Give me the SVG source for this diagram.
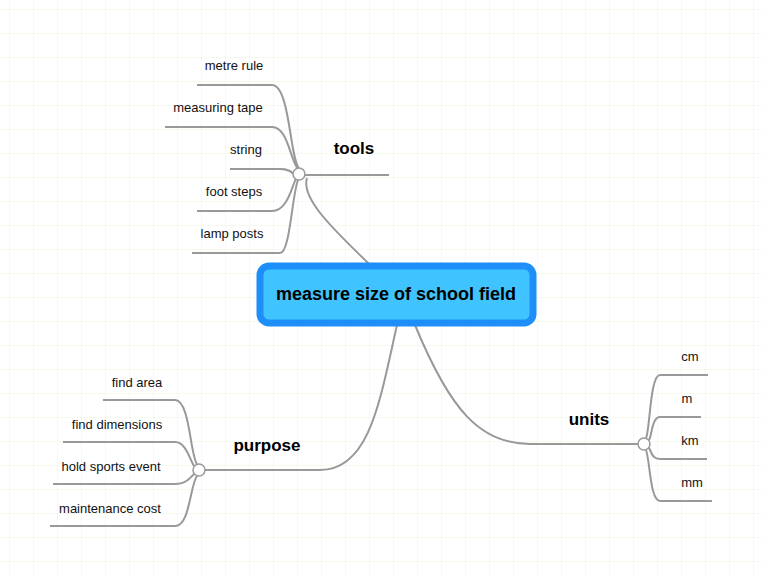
<svg xmlns="http://www.w3.org/2000/svg" width="762" height="575" viewBox="0 0 762 575">
<defs>
<pattern id="g" width="24" height="24" patternUnits="userSpaceOnUse" x="10" y="10">
<path d="M24 0V24M0 24H24" fill="none" stroke="#edf2dc" stroke-width="1"/>
</pattern>
<style>
.c{fill:none;stroke:#999;stroke-width:2}
.k{fill:#fff;stroke:#999;stroke-width:1.5}
.t{font-family:"Liberation Sans",Arial,sans-serif;font-size:13px;fill:#111;text-anchor:middle}
.h{font-family:"Liberation Sans",Arial,sans-serif;font-size:17px;font-weight:bold;fill:#000;text-anchor:middle}
</style>
</defs>
<rect width="762" height="575" fill="#fff"/>
<rect width="762" height="575" fill="url(#g)"/>
<g id="connectors">
<path class="c" d="M370 265C340 235 300 200 307 178"/>
<path class="c" d="M397 325C380 400 370 470 320 470H205"/>
<path class="c" d="M415 325C450 410 480 444 530 444H638"/>
<path class="c" d="M305 175H389"/>
<path class="c" d="M197 85H272C290 85 290 160 299 168"/>
<path class="c" d="M165 127H272C288 127 290 160 298 169"/>
<path class="c" d="M230 169H280C288 169 292 172 293 174"/>
<path class="c" d="M197 211H272C288 211 292 185 296 179"/>
<path class="c" d="M192 253H280C290 253 292 195 298 180"/>
<path class="c" d="M103 400H175C190 400 190 455 197 464"/>
<path class="c" d="M63 442H175C186 442 190 460 194 466"/>
<path class="c" d="M53 484H175C186 484 190 478 194 474"/>
<path class="c" d="M50 526H175C190 526 190 485 197 476"/>
<path class="c" d="M660 375H708M660 375C650 375 650 430 646 438"/>
<path class="c" d="M660 417H701M660 417C652 417 652 435 649 440"/>
<path class="c" d="M660 459H707M660 459C652 459 652 453 649 448"/>
<path class="c" d="M660 501H712M660 501C650 501 650 460 646 450"/>
</g>
<g id="center">
<rect x="260" y="266" width="273" height="57" rx="9" fill="#40c4ff" stroke="#1e8ff8" stroke-width="7"/>
<text class="h" x="396" y="300" style="font-size:18px">measure size of school field</text>
</g>
<g id="tools"><circle class="k" cx="299" cy="174" r="6"/><text class="h" x="354" y="154">tools</text></g>
<g id="purpose"><circle class="k" cx="199" cy="470" r="6"/><text class="h" x="267" y="451">purpose</text></g>
<g id="units"><circle class="k" cx="644" cy="444" r="6"/><text class="h" x="589" y="425">units</text></g>
<g id="leaves">
<text class="t" x="234" y="70">metre rule</text>
<text class="t" x="218" y="112">measuring tape</text>
<text class="t" x="246" y="154">string</text>
<text class="t" x="234" y="196">foot steps</text>
<text class="t" x="232" y="238">lamp posts</text>
<text class="t" x="137" y="387">find area</text>
<text class="t" x="117" y="429">find dimensions</text>
<text class="t" x="111" y="471">hold sports event</text>
<text class="t" x="110" y="513">maintenance cost</text>
<text class="t" x="690" y="361">cm</text>
<text class="t" x="687" y="403">m</text>
<text class="t" x="690" y="445">km</text>
<text class="t" x="692" y="487">mm</text>
</g>
</svg>
